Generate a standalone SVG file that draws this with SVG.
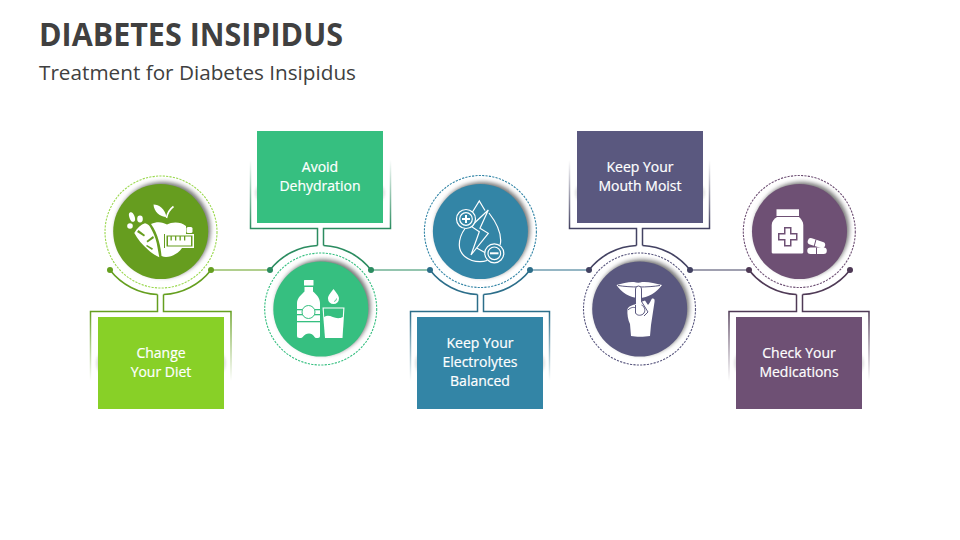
<svg xmlns="http://www.w3.org/2000/svg" width="960" height="540" viewBox="0 0 960 540">
<style>
text{font-family:"Open Sans","Noto Sans","Liberation Sans",sans-serif}
.t{font-size:32px;font-weight:700;fill:#404040}
.s{font-size:20px;fill:#404040}
.l{font-size:14px;fill:#fff;stroke:#fff;stroke-width:.2;text-anchor:middle}
.f{fill:none;stroke-width:1.5}
.a{fill:none;stroke-width:1.6}
.h{fill:none;stroke-width:1.2}
.r{fill:none;stroke-width:1.1;stroke-dasharray:2.2 1.2}
.w{fill:#fff}
.o{fill:none;stroke:#fff;stroke-width:1.2}
.sh{fill:#777;filter:url(#b)}
.es{fill:#aaa;opacity:.35;filter:url(#b1)}
</style>
<defs>
<filter id="b" x="-20%" y="-20%" width="140%" height="140%"><feGaussianBlur stdDeviation="2"/></filter>
<filter id="b1" x="-10%" y="-20%" width="120%" height="140%"><feGaussianBlur stdDeviation="1.2"/></filter>
<linearGradient id="g1" gradientUnits="userSpaceOnUse" x1="0" y1="312" x2="0" y2="381"><stop offset="0" stop-color="#659F1F"/><stop offset="1" stop-color="#659F1F" stop-opacity="0"/></linearGradient>
<linearGradient id="g2" gradientUnits="userSpaceOnUse" x1="0" y1="228" x2="0" y2="160"><stop offset="0" stop-color="#2B8C60"/><stop offset="1" stop-color="#2B8C60" stop-opacity="0"/></linearGradient>
<linearGradient id="g3" gradientUnits="userSpaceOnUse" x1="0" y1="312" x2="0" y2="381"><stop offset="0" stop-color="#2C6E8A"/><stop offset="1" stop-color="#2C6E8A" stop-opacity="0"/></linearGradient>
<linearGradient id="g4" gradientUnits="userSpaceOnUse" x1="0" y1="228" x2="0" y2="160"><stop offset="0" stop-color="#434262"/><stop offset="1" stop-color="#434262" stop-opacity="0"/></linearGradient>
<linearGradient id="g5" gradientUnits="userSpaceOnUse" x1="0" y1="312" x2="0" y2="381"><stop offset="0" stop-color="#4F3A56"/><stop offset="1" stop-color="#4F3A56" stop-opacity="0"/></linearGradient>
</defs>
<rect width="960" height="540" fill="#fff"/>
<text class="t" x="39" y="46" textLength="304" lengthAdjust="spacingAndGlyphs">DIABETES INSIPIDUS</text>
<text class="s" x="39" y="80" textLength="317" lengthAdjust="spacingAndGlyphs">Treatment for Diabetes Insipidus</text>

<g id="connectors">
<path class="h" stroke="#659F1F" d="M211 270H270"/>
<path class="h" stroke="#2B8C60" d="M371 270H430"/>
<path class="h" stroke="#2C6E8A" d="M530 270H589"/>
<path class="h" stroke="#434262" d="M690 270H749"/>
<g stroke="url(#g1)"><path class="f" d="M90.500 382V311.500H157.500V294.500M163.500 294.500V311.500H231V382"/></g>
<g stroke="url(#g2)"><path class="f" d="M250.500 160V228.500H317.500V245.500M323.500 245.500V228.500H390.500V160"/></g>
<g stroke="url(#g3)"><path class="f" d="M410.500 382V311.500H477.500V294.500M483.500 294.500V311.500H549.500V382"/></g>
<g stroke="url(#g4)"><path class="f" d="M569.500 160V228.500H636.500V245.500M642.500 245.500V228.500H709.500V160"/></g>
<g stroke="url(#g5)"><path class="f" d="M729 382V311.500H796.500V294.500M802.500 294.500V311.500H869V382"/></g>
<path class="a" stroke="#659F1F" d="M110 270A63.500 63.500 0 0 0 157.500 294.500M163.500 294.500A63.500 63.500 0 0 0 211 270"/>
<path class="a" stroke="#2B8C60" d="M270 270A63.500 63.500 0 0 1 317.500 245.500M323.500 245.500A63.500 63.500 0 0 1 371 270"/>
<path class="a" stroke="#2C6E8A" d="M430 270A63.500 63.500 0 0 0 477.500 294.500M483.500 294.500A63.500 63.500 0 0 0 530 270"/>
<path class="a" stroke="#434262" d="M589 270A63.500 63.500 0 0 1 636.500 245.500M642.500 245.500A63.500 63.500 0 0 1 690 270"/>
<path class="a" stroke="#4F3A56" d="M749 270A63.500 63.500 0 0 0 796.500 294.500M802.500 294.500A63.500 63.500 0 0 0 850 270"/>
<g fill="#659F1F"><circle cx="110" cy="270" r="3"/><circle cx="211" cy="270" r="3"/></g>
<g fill="#2B8C60"><circle cx="270" cy="270" r="3"/><circle cx="371" cy="270" r="3"/></g>
<g fill="#2C6E8A"><circle cx="430" cy="270" r="3"/><circle cx="530" cy="270" r="3"/></g>
<g fill="#434262"><circle cx="589" cy="270" r="3"/><circle cx="690" cy="270" r="3"/></g>
<g fill="#4F3A56"><circle cx="749" cy="270" r="3"/><circle cx="850" cy="270" r="3"/></g>
</g>

<g id="node-1">
<circle class="r" stroke="#9AD84E" cx="161" cy="232" r="56"/>
<circle class="sh" cx="163" cy="229.500" r="47.500"/>
<circle fill="#669D1F" cx="160.700" cy="231.500" r="47.500"/>
<path class="w" d="M153.500 204.500C159 204.500 165 209 166.500 217C160 217 154 212 153.500 204.500Z"/>
<path fill="none" stroke="#fff" stroke-width="1.600" d="M166.500 218C167.500 213 170 209 173.500 206.500"/>
<path class="w" d="M151 224C157 221 163 222 167 224.500C172 221.500 181 221.500 186 226V234H164V248H182C179 253 172 257 166 257C164.500 257 163 256.500 161.500 256C161 248 158 233 151 224Z"/>
<rect class="w" x="186.500" y="227" width="6" height="6" rx="1.500"/>
<path class="w" d="M134.300 233C137 228 141 224.500 145 223.300C147 223.500 149 225 150 226.700C153 232 155.500 237 156.700 243L159.300 257.300C155 255 151.500 253 148.300 250C142.500 245 137.500 239 134.300 233Z"/>
<g fill="#669D1F"><path d="M137 232L144 236.500L145 235L138.500 230Z"/><path d="M153 236L146.500 241L147.500 242.500L154 238Z"/><path d="M146 246L152 250L153 248.500L147 245Z"/></g>
<ellipse class="w" cx="132" cy="217" rx="2.600" ry="5" transform="rotate(-20 132 217)"/>
<ellipse class="w" cx="140" cy="219" rx="2.800" ry="3.400"/>
<circle class="w" cx="130" cy="226" r="2.800"/>
<rect class="w" x="165" y="234" width="29" height="14"/>
<rect fill="#669D1F" x="166.500" y="235.500" width="26" height="11"/>
<path class="w" d="M168 236.500H191V245.500H168Z"/>
<g fill="#669D1F"><rect x="170.500" y="236" width="1.300" height="4.500"/><rect x="175" y="236" width="1.300" height="4.500"/><rect x="179.500" y="236" width="1.300" height="4.500"/><rect x="184" y="236" width="1.300" height="4.500"/></g>
<g class="box">
<ellipse class="es" cx="161" cy="363" rx="65" ry="30"/>
<rect fill="#88D027" x="98" y="317" width="126" height="92"/>
<text class="l"><tspan x="161" y="358">Change</tspan><tspan x="161" y="376.500">Your Diet</tspan></text>
</g>
</g>

<g id="node-2">
<circle class="r" stroke="#36BF80" cx="320.700" cy="309" r="56"/>
<circle class="sh" cx="323" cy="307" r="47.500"/>
<circle fill="#36BF80" cx="320.800" cy="309" r="47.500"/>
<rect class="w" x="304" y="280" width="9.500" height="5.500" rx=".5"/>
<path class="w" d="M304.500 287H313V291.500C316 294 320 298 320 303V336C320 338 318.500 338 316 338C314 338 314 333.500 309 333.500C303.500 333.500 303.500 338 301 338C298 338 297 338 297 335V303C297 298 302 294 304.500 291.500Z"/>
<g fill="#36BF80"><rect x="297" y="309" width="23" height="1.300"/><rect x="297" y="314" width="23" height="1.300"/><rect x="297" y="321" width="23" height="1.300"/></g>
<circle fill="#fff" stroke="#36BF80" stroke-width="1" cx="308.500" cy="312" r="6.500"/>
<circle fill="#fff" cx="308.500" cy="312" r="5"/>
<path class="w" d="M322.500 307.500H344.500L342.500 338H325Z"/>
<path fill="#36BF80" d="M323.700 308.500H343.300L342.800 317C335 321 330 313 324.200 317Z"/>
<path class="w" d="M333.500 289C336 292.500 339 295.500 339 298.500A5.500 5.500 0 0 1 328 298.500C328 295.500 331 292.500 333.500 289Z"/>
<path fill="none" stroke="#36BF80" stroke-width=".8" d="M334 301.500A3 3 0 0 0 336.500 298.500"/>
<g class="box">
<ellipse class="es" cx="320" cy="193" rx="65" ry="24"/>
<rect fill="#36BF80" x="257" y="131" width="126" height="92"/>
<text class="l"><tspan x="320" y="172">Avoid</tspan><tspan x="320" y="190.500">Dehydration</tspan></text>
</g>
</g>

<g id="node-3">
<circle class="r" stroke="#3385A6" cx="480.400" cy="231.500" r="56"/>
<circle class="sh" cx="482.500" cy="229.500" r="47.500"/>
<circle fill="#3385A6" cx="480.400" cy="231.500" r="47.500"/>
<path class="o" d="M472.500 212L479.300 201L485 210.500M489 213C496 222 500.700 231 500.700 240.500C500.700 242 500.500 243.500 500 245M465 228.500C461 234 459.300 240 459.300 245C459.300 254 468 261.700 480 261.700C482.500 261.700 485 261.300 487 260.500"/>
<path class="o" d="M475 222.500L488.300 210L480 228.300L488.300 233.300L471 255L479.300 231.700L471.700 226.700Z"/>
<path class="o" d="M476.700 248L486.700 253.500M474 222L468 226"/>
<circle fill="#3385A6" stroke="#fff" stroke-width="1.200" cx="466" cy="219" r="9.500"/>
<circle fill="#3385A6" stroke="#fff" stroke-width="1.200" cx="466" cy="219" r="6.300"/>
<path fill="none" stroke="#fff" stroke-width="2" d="M462 219H470M466 215V223"/>
<circle fill="#3385A6" stroke="#fff" stroke-width="1.200" cx="494.300" cy="253.300" r="9.500"/>
<circle fill="#3385A6" stroke="#fff" stroke-width="1.200" cx="494.300" cy="253.300" r="6.300"/>
<path fill="none" stroke="#fff" stroke-width="2" d="M490 253.300H498.500"/>
<g class="box">
<ellipse class="es" cx="480" cy="363" rx="65" ry="30"/>
<rect fill="#3385A6" x="417" y="317" width="126" height="92"/>
<text class="l"><tspan x="480" y="348">Keep Your</tspan><tspan x="480" y="367">Electrolytes</tspan><tspan x="480" y="385.500">Balanced</tspan></text>
</g>
</g>

<g id="node-4">
<circle class="r" stroke="#5A587F" cx="639.500" cy="309" r="56"/>
<circle class="sh" cx="641.800" cy="307" r="47.500"/>
<circle fill="#5A587F" cx="639.700" cy="309" r="47.500"/>
<path class="w" d="M616.500 285C622 283 630 281.500 634 282C636.500 283 640 283 642 282C648 281.500 655 283 662 285C657 292 648 298 639 298C630 298 621 292 616.500 285Z"/>
<path fill="none" stroke="#5A587F" stroke-width="1" d="M618 285.500C630 287.500 648 287.500 660 285.500"/>
<path class="w" stroke="#5A587F" stroke-width="1" d="M635.500 289A3 3 0 0 1 641.500 289V305H635.500Z"/>
<path class="w" d="M627.500 309C629 306 633 305 636 304L645 300.500L648 305C650 303 651 300 652 298.500C654 298 655 299 654.500 302L651 325L650 336C644 337 636 337 631 336L630 324C628 320 627 314 627.500 309Z"/>
<path fill="none" stroke="#5A587F" stroke-width="1" d="M635.500 305V313C637 316 642 316 644 313C646 310 644 306 641.500 305M641.500 301.500L648 312L644 316M628 310C631 307 634 307 636 308"/>
<g class="box">
<ellipse class="es" cx="640" cy="193" rx="65" ry="24"/>
<rect fill="#5A587F" x="577" y="131" width="126" height="92"/>
<text class="l"><tspan x="640" y="172">Keep Your</tspan><tspan x="640" y="190.500">Mouth Moist</tspan></text>
</g>
</g>

<g id="node-5">
<circle class="r" stroke="#6E5074" cx="799.300" cy="231.500" r="56"/>
<circle class="sh" cx="801.700" cy="229.500" r="47.500"/>
<circle fill="#6E5074" cx="799.500" cy="231.500" r="47.500"/>
<rect class="w" x="776.500" y="209.300" width="22.500" height="6.700"/>
<path class="w" d="M777 217H799C801 219 803.300 221.500 803.300 225V252C803.300 253 802.500 253.500 801.500 253.500H773.500C772.500 253.500 771.700 253 771.700 252V225C771.700 221.500 774 219 777 217Z"/>
<path fill="#6E5074" d="M784 227H791.500V233H797.500V240.500H791.500V246.500H784V240.500H778V233H784Z"/>
<path class="w" d="M785.500 228.500H790V234.500H796V239H790V245H785.500V239H779.500V234.500H785.500Z"/>
<g class="w"><rect x="807.500" y="240" width="18" height="6.500" rx="3.200" transform="rotate(18 816.500 243)"/><rect x="807.300" y="247.500" width="19.500" height="6.500" rx="3.200"/></g>
<path fill="none" stroke="#6E5074" stroke-width="1" d="M816 239.500L814 247M816.500 247.500V254"/>
<g class="box">
<ellipse class="es" cx="799" cy="363" rx="65" ry="30"/>
<rect fill="#6E5074" x="736" y="317" width="126" height="92"/>
<text class="l"><tspan x="799" y="358">Check Your</tspan><tspan x="799" y="376.500">Medications</tspan></text>
</g>
</g>
</svg>
